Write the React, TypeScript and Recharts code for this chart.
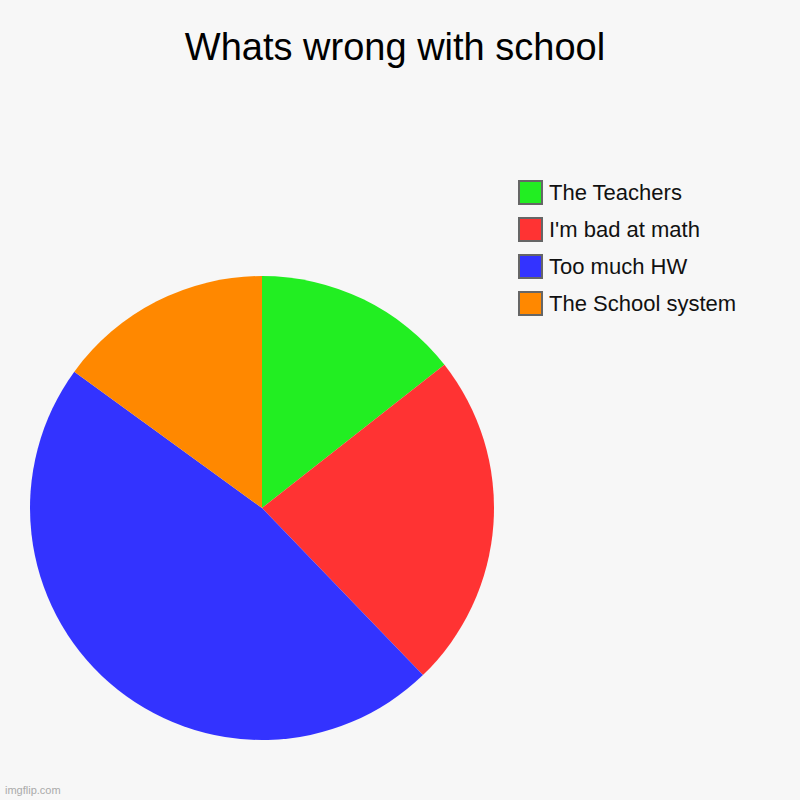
import React from 'react'
import { PieChart, Pie, Cell, Legend } from 'recharts'

const categories = ['The Teachers', "I'm bad at math", 'Too much HW', 'The School system']
const values = [14.4, 23.4, 47.2, 15]
const colors = ['#22ee22', '#ff3333', '#3333ff', '#ff8800']

const data = categories.map((name, i) => ({ name, value: values[i] }))

const renderLegend = () => (
  <div style={{ fontFamily: '"Liberation Sans", Arial, sans-serif' }}>
    {categories.map((name, i) => (
      <div key={name} style={{ display: 'flex', alignItems: 'center', height: 37 }}>
        <div
          style={{
            width: 21,
            height: 21,
            background: colors[i],
            border: '2px solid #666',
            marginRight: 6,
          }}
        />
        <span style={{ fontSize: 22, color: '#111' }}>{name}</span>
      </div>
    ))}
  </div>
)

export default function App() {
  return (
    <div style={{ position: 'absolute', left: 0, top: 0, width: 800, height: 800, background: '#f7f7f7' }}>
      <svg width={800} height={800} style={{ position: 'absolute', left: 0, top: 0 }}>
        <text
          x={395}
          y={60}
          textAnchor="middle"
          fontFamily='"Liberation Sans", Arial, sans-serif'
          fontSize={38}
          fill="#000"
        >
          Whats wrong with school
        </text>
        <text x={5} y={794} fontFamily='"Liberation Sans", Arial, sans-serif' fontSize={11} fill="#aaa">
          imgflip.com
        </text>
      </svg>
      <div style={{ position: 'absolute', left: 0, top: 0 }}>
        <PieChart width={800} height={800} margin={{ top: 0, right: 0, bottom: 0, left: 0 }}>
          <Pie
            data={data}
            dataKey="value"
            nameKey="name"
            cx={262}
            cy={508}
            outerRadius={232}
            startAngle={90}
            endAngle={-270}
            stroke="none"
            isAnimationActive={false}
          >
            {data.map((entry, i) => (
              <Cell key={`cell-${entry.name}`} fill={colors[i]} stroke="none" />
            ))}
          </Pie>
          <Legend
            content={renderLegend}
            layout="vertical"
            wrapperStyle={{ left: 518, top: 174, width: 280 }}
          />
        </PieChart>
      </div>
    </div>
  )
}
